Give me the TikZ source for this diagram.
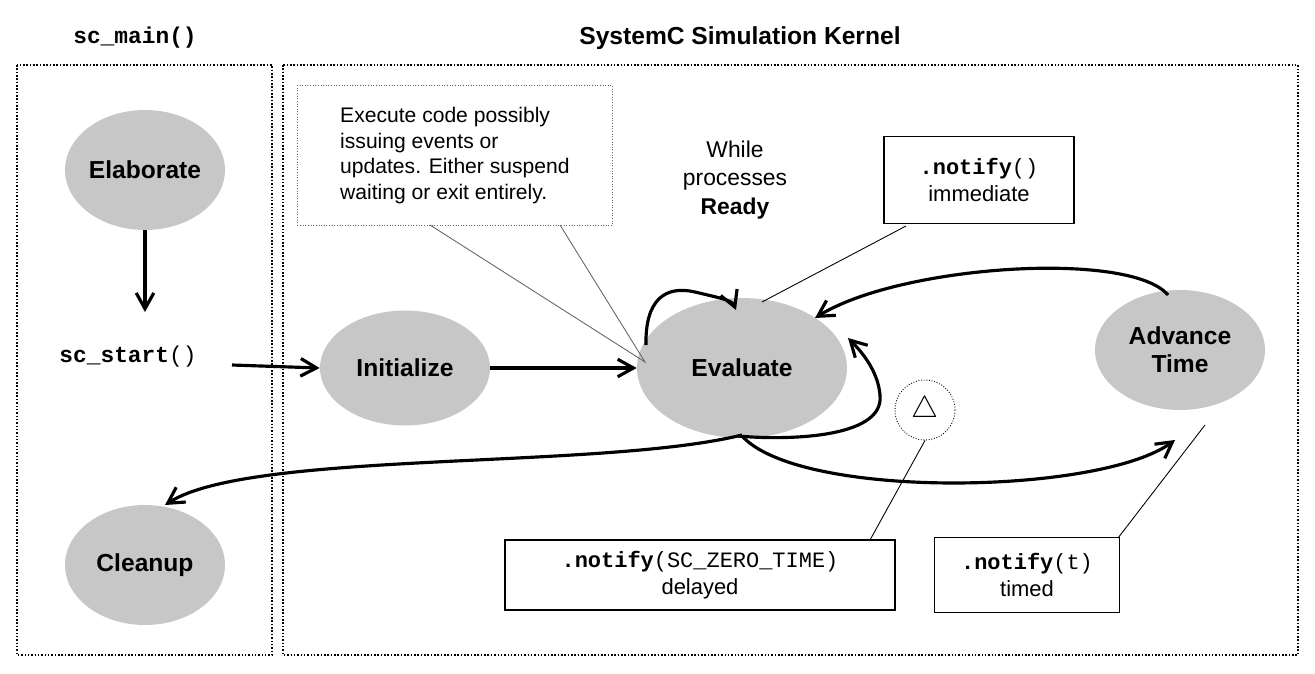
\documentclass[tikz,border=0pt]{standalone}
\usepackage{fontspec}
\setmainfont{Liberation Sans}
\setmonofont{Liberation Mono}
\usetikzlibrary{arrows.meta,shapes.geometric}
\begin{document}
\begin{tikzpicture}[x=0.02cm,y=-0.02cm,
  st/.style={ellipse,fill=black!22,font=\fontsize{14pt}{16pt}\selectfont\bfseries,align=center,inner sep=0pt},
  ar/.style={line width=1.8pt,-{Straight Barb[length=9pt,width=10pt]}},
  frame/.style={densely dotted,line width=0.9pt},
  lbl/.style={draw,line width=0.8pt,align=center,font=\fontsize{12.5pt}{15pt}\selectfont,inner sep=4pt},
  thin/.style={line width=0.5pt}]
\useasboundingbox (0,0) rectangle (1315,673);
\node[font=\fontsize{13pt}{15pt}\selectfont\ttfamily\bfseries] (t1) at (135,38) {sc\_main()};
\node[font=\fontsize{14pt}{16pt}\selectfont\bfseries] (t2) at (740,38) {SystemC Simulation Kernel};
\draw[frame] (17,65) rectangle (272,655);
\draw[frame] (283,65) rectangle (1298,655);
\node[st,minimum width=3.2cm,minimum height=2.4cm] (elab) at (145,170) {Elaborate};
\node[font=\fontsize{13pt}{15pt}\selectfont\ttfamily] (start) at (128,357) {\textbf{sc\_start}()};
\node[st,minimum width=3.4cm,minimum height=2.3cm] (init) at (405,368) {Initialize};
\node[st,minimum width=4.2cm,minimum height=2.8cm] (eval) at (742,368) {Evaluate};
\node[st,minimum width=3.4cm,minimum height=2.4cm] (adv) at (1180,350) {Advance\\Time};
\node[st,minimum width=3.2cm,minimum height=2.4cm] (clean) at (145,565) {Cleanup};
\draw[ar] (elab.south) -- (145,312);
\coordinate (s0) at (232,365);
\draw[ar] (s0) -- (init.west);
\draw[ar] (init.east) -- (eval.west);
% note
\node[draw=black!60,densely dotted,thin,align=left,anchor=north west,font=\fontsize{12pt}{14.5pt}\selectfont,inner sep=6pt,minimum width=6.3cm,minimum height=2.8cm] (note) at (297,85) {Execute code possibly\\issuing events or\\updates. Either suspend\\waiting or exit entirely.};
\coordinate (tip) at (645,362);
\draw[thin,black!60] (430,225) -- (tip) -- (560,225);
\node[align=center,font=\fontsize{13pt}{16pt}\selectfont] (while) at (735,180) {While\\processes\\\textbf{Ready}};
\node[lbl,minimum width=3.8cm,minimum height=1.75cm] (imm) at (979,180) {\texttt{\textbf{.notify}()}\\immediate};
\draw[thin] (906,226) -- (762,302);
% self loop
\draw[ar] (646,345) .. controls (645,300) and (665,285) .. (695,292) .. controls (720,298) and (732,300) .. (736,310);
% from adv to eval
\draw[ar] (1168,295) .. controls (1130,250) and (900,265) .. (815,318);
% zero-time loop
\draw[ar] (738,436) .. controls (780,440) and (885,440) .. (880,395) .. controls (878,370) and (860,350) .. (848,338);
% eval to adv
\draw[ar] (742,436) .. controls (800,500) and (1100,495) .. (1175,440);
% eval to cleanup
\draw[ar] (742,435) .. controls (600,470) and (250,450) .. (165,505);
% delta
\node[draw,densely dotted,circle,minimum size=1.2cm,thin,inner sep=0pt,font=\fontsize{16pt}{16pt}\selectfont] (delta) at (925,410) {$\triangle$};
\node[lbl,minimum width=7.8cm,minimum height=1.4cm] (zero) at (700,575) {\texttt{\textbf{.notify}(SC\_ZERO\_TIME)}\\delayed};
\draw[thin] (870,540) -- (delta.south);
\node[lbl,minimum width=3.7cm,minimum height=1.5cm] (timed) at (1027,575) {\texttt{\textbf{.notify}(t)}\\timed};
\draw[thin] (1118,538) -- (1205,425);
\end{tikzpicture}
\end{document}
